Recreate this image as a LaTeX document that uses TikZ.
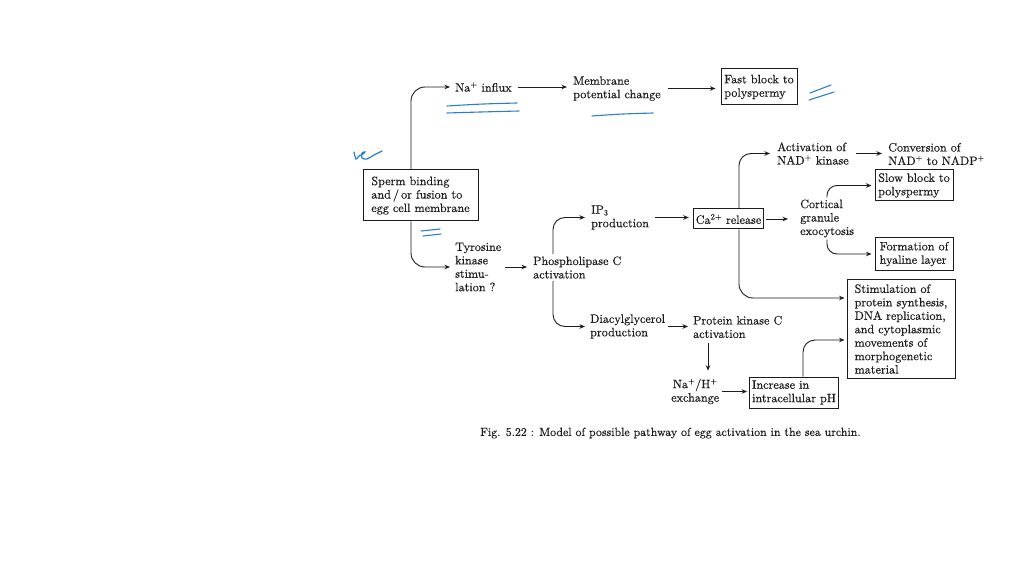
\documentclass[tikz,border=0pt]{standalone}
\usepackage{fontspec}
\setmainfont{lmroman10-regular.otf}[FakeBold=0.4]
\usetikzlibrary{arrows.meta,calc}
\definecolor{ink}{RGB}{28,28,28}
\definecolor{penblue}{RGB}{45,125,205}
\begin{document}
\begin{tikzpicture}[x=1bp,y=-1bp,
  every node/.style={font=\fontsize{12.2}{13.5}\selectfont, text=ink},
  txt/.style={anchor=west, inner sep=0pt, align=left},
  bx/.style={draw=ink, line width=1bp, inner xsep=2.5bp, inner ysep=0pt, align=left},
  arr/.style={draw=ink, line width=0.9bp, -{Stealth[length=5.5bp,width=4.5bp]}},
  pen/.style={draw=penblue, line width=1.1bp, line cap=round},
]
\useasboundingbox[fill=white] (0,0) rectangle (1024,576);

% nodes
\node[txt] (na) at (455,87) {Na\textsuperscript{+} influx};
\node[txt] (mem) at (573,88.5) {Membrane\\potential change};
\node[bx, minimum width=76bp, minimum height=36bp] (fast) at (759,87) {Fast block to\\polyspermy};
\node[bx, minimum width=115bp, minimum height=51bp] (sperm) at (420.5,195.5) {Sperm binding\\and\,/\,or fusion to\\egg cell membrane};
\node[txt] (tyr) at (455,267) {Tyrosine\\kinase\\stimu-\\lation ?};
\node[txt] (plc) at (533,267.5) {Phospholipase C\\activation};
\node[txt] (ip3) at (591,217.5) {IP\textsubscript{3}\\production};
\node[bx, minimum width=69bp, minimum height=20bp] (ca) at (728.5,219) {Ca\textsuperscript{2+} release};
\node[txt] (cort) at (800,218.5) {Cortical\\granule\\exocytosis};
\node[txt] (nadk) at (777,153.5) {Activation of\\NAD\textsuperscript{+} kinase};
\node[txt] (conv) at (888,154) {Conversion of\\NAD\textsuperscript{+} to NADP\textsuperscript{+}};
\node[bx, minimum width=78bp, minimum height=31bp] (slow) at (914,185.5) {Slow block to\\polyspermy};
\node[bx, minimum width=78bp, minimum height=32bp] (form) at (914,254) {Formation of\\hyaline layer};
\node[bx, minimum width=108bp, minimum height=98bp] (stim) at (901,329) {Stimulation of\\protein synthesis,\\DNA replication,\\and cytoplasmic\\movements of\\morphogenetic\\material};
\node[txt] (dag) at (590,326.5) {Diacylglycerol\\production};
\node[txt] (pkc) at (693,327) {Protein kinase C\\activation};
\node[txt, align=center] (nah) at (671,391.5) {Na\textsuperscript{+}/H\textsuperscript{+}\\exchange};
\node[bx, minimum width=88bp, minimum height=31bp] (inc) at (794,392.5) {Increase in\\intracellular pH};
\node[txt, font=\fontsize{11.9}{13}\selectfont] (cap) at (480,433) {Fig. 5.22 : Model of possible pathway of egg activation in the sea urchin.};

% connectors
\draw[arr, rounded corners=14bp, shorten >=5bp] ([xshift=-9.5bp]sperm.north) |- (na.west);
\draw[arr, rounded corners=14bp, shorten >=5bp] ([xshift=-9.5bp]sperm.south) |- (tyr.west);
\draw[arr, shorten <=6bp, shorten >=6bp] (na.east) -- (na.east -| mem.west);
\draw[arr, shorten <=7bp, shorten >=5bp] (mem.east) -- (mem.east -| fast.west);
\draw[arr, shorten <=4bp, shorten >=6bp] (tyr.east) -- (tyr.east -| plc.west);
\draw[arr, rounded corners=12bp, shorten <=2bp, shorten >=6bp] ([xshift=20bp]plc.north west) |- (ip3.west);
\draw[arr, rounded corners=12bp, shorten <=2bp, shorten >=5bp] ([xshift=20bp]plc.south west) |- (dag.west);
\draw[arr, shorten <=6bp, shorten >=4bp] (ip3.east) -- (ip3.east -| ca.west);
\draw[arr, shorten <=2bp, shorten >=12bp] (ca.east) -- (ca.east -| cort.west);
\draw[arr, rounded corners=12bp, shorten >=7bp] ([xshift=10.5bp]ca.north) |- (nadk.west);
\draw[arr, rounded corners=14bp, shorten >=2bp] ([xshift=10.5bp]ca.south) |- ([yshift=31bp]stim.west);
\draw[arr, shorten <=7bp, shorten >=6bp] (nadk.east) -- (nadk.east -| conv.west);
\draw[arr, rounded corners=10bp, shorten <=2bp, shorten >=3bp] ([xshift=27bp]cort.north west) |- (slow.west);
\draw[arr, rounded corners=10bp, shorten <=2bp, shorten >=3bp] ([xshift=27bp]cort.south west) |- (form.west);
\draw[arr, shorten <=3bp, shorten >=5bp] (dag.east) -- (dag.east -| pkc.west);
\coordinate (pkcx) at ([xshift=15bp]pkc.south west);
\draw[arr, shorten <=5bp, shorten >=8bp] (pkcx) -- (pkcx |- nah.north);
\draw[arr, shorten <=3bp, shorten >=2bp] (nah.east) -- (nah.east -| inc.west);
\draw[arr, rounded corners=12bp, shorten >=2bp] ([xshift=9bp]inc.north) |- ([yshift=-11bp]stim.west);

% blue pen annotations
\draw[pen] (447,106) .. controls (480,104) .. (517,103);
\draw[pen] (447,113) .. controls (480,112) .. (519,111);
\draw[pen] (592,116) .. controls (620,114) .. (653,113);
\draw[pen] (810,93) -- (831,85);
\draw[pen] (809,100) -- (834,92);
\draw[pen] (421,231) -- (440,229);
\draw[pen] (423,236) -- (441,234);
\draw[pen, line width=1.2bp] plot[smooth, tension=0.6] coordinates {(354,152) (356,159) (359,156) (363,154) (365,152) (362,153) (362,158) (367,159) (374,155) (382,151)};
\end{tikzpicture}
\end{document}
